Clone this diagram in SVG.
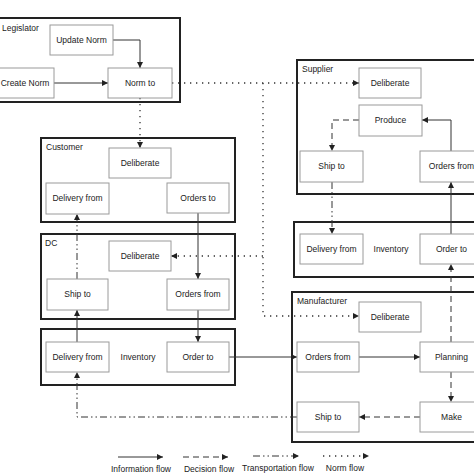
<svg xmlns="http://www.w3.org/2000/svg" width="474" height="474" viewBox="0 0 474 474">
<defs>
<marker id="ah" viewBox="0 0 6 6" refX="6" refY="3" markerWidth="6" markerHeight="6" markerUnits="userSpaceOnUse" orient="auto">
<path d="M0,0 L6,3 L0,6 z" fill="#222"/>
</marker>
</defs>
<style>
.outer{fill:none;stroke:#222;stroke-width:2}
.node{fill:#fff;stroke:#9a9a9a;stroke-width:1}
text{font-family:"Liberation Sans",Arial,sans-serif;font-size:8.5px;fill:#222}
.c{text-anchor:middle}
.f{fill:none;stroke:#333;stroke-width:1;marker-end:url(#ah)}
.info{}
.dec{stroke-dasharray:6,4}
.tr{stroke-dasharray:7,3,1.5,3,1.5,3}
.norm{stroke-dasharray:1.3,4.7;stroke-width:1.3}
</style>
<rect width="474" height="474" fill="#fff"/>

<!-- outer containers -->
<g id="legislator">
<rect class="outer" x="-10" y="18" width="190" height="84"/>
<text x="2" y="31">Legislator</text>
</g>
<g id="customer">
<rect class="outer" x="41" y="138" width="194" height="84"/>
<text x="46" y="150">Customer</text>
</g>
<g id="dc">
<rect class="outer" x="41" y="234" width="194" height="85"/>
<text x="45" y="246">DC</text>
</g>
<g id="dc-inventory">
<rect class="outer" x="41" y="329" width="194" height="56"/>
<text class="c" x="138" y="360">Inventory</text>
</g>
<g id="supplier">
<rect class="outer" x="297" y="60" width="190" height="134"/>
<text x="302" y="72">Supplier</text>
</g>
<g id="supplier-inventory">
<rect class="outer" x="294" y="222" width="193" height="55"/>
<text class="c" x="391" y="252">Inventory</text>
</g>
<g id="manufacturer">
<rect class="outer" x="292" y="292" width="195" height="150"/>
<text x="297" y="304">Manufacturer</text>
</g>

<!-- connectors -->
<g id="connectors">
<path class="f info" d="M113,40 H140 V68"/>
<path class="f info" d="M54,83 H108"/>
<path class="f norm" d="M172,83 H359"/>
<path class="f norm" d="M140,98 V148"/>
<path class="f norm" d="M263,83 V316 H359"/>
<path class="f norm" d="M263,256 H171"/>
<path class="f info" d="M198,213 V279"/>
<path class="f info" d="M198,310 V342"/>
<path class="f info" d="M77,342 V310"/>
<path class="f tr" d="M77,279 V214"/>
<path class="f info" d="M229,357 H297"/>
<path class="f tr" d="M297,417 H77 V372"/>
<path class="f dec" d="M359,120 H332 V151"/>
<path class="f info" d="M451,151 V120 H422"/>
<path class="f tr" d="M332,182 V234"/>
<path class="f info" d="M451,234 V182"/>
<path class="f dec" d="M451,342 V264"/>
<path class="f info" d="M359,357 H420"/>
<path class="f dec" d="M451,372 V402"/>
<path class="f dec" d="M420,417 H359"/>
</g>

<!-- nodes -->
<g id="update-norm"><rect class="node" x="50" y="25" width="63" height="30"/><text class="c" x="81.5" y="43">Update Norm</text></g>
<g id="create-norm"><rect class="node" x="-10" y="68" width="64" height="30"/><text class="c" x="25" y="86">Create Norm</text></g>
<g id="norm-to"><rect class="node" x="108" y="68" width="64" height="30"/><text class="c" x="140" y="86">Norm to</text></g>

<g id="cust-deliberate"><rect class="node" x="109" y="148" width="62" height="30"/><text class="c" x="140" y="166">Deliberate</text></g>
<g id="cust-delivery-from"><rect class="node" x="46" y="183" width="63" height="31"/><text class="c" x="77.5" y="201">Delivery from</text></g>
<g id="cust-orders-to"><rect class="node" x="167" y="183" width="62" height="30"/><text class="c" x="198" y="201">Orders to</text></g>

<g id="dc-deliberate"><rect class="node" x="109" y="241" width="62" height="30"/><text class="c" x="140" y="259">Deliberate</text></g>
<g id="dc-ship-to"><rect class="node" x="47" y="279" width="61" height="31"/><text class="c" x="77.5" y="297">Ship to</text></g>
<g id="dc-orders-from"><rect class="node" x="167" y="279" width="62" height="31"/><text class="c" x="198" y="297">Orders from</text></g>

<g id="dc-delivery-from"><rect class="node" x="46" y="342" width="63" height="30"/><text class="c" x="77.5" y="360">Delivery from</text></g>
<g id="dc-order-to"><rect class="node" x="167" y="342" width="62" height="30"/><text class="c" x="198" y="360">Order to</text></g>

<g id="sup-deliberate"><rect class="node" x="359" y="68" width="62" height="30"/><text class="c" x="390" y="86">Deliberate</text></g>
<g id="sup-produce"><rect class="node" x="359" y="105" width="63" height="31"/><text class="c" x="390.5" y="123">Produce</text></g>
<g id="sup-ship-to"><rect class="node" x="300" y="151" width="63" height="31"/><text class="c" x="331.5" y="169">Ship to</text></g>
<g id="sup-orders-from"><rect class="node" x="420" y="151" width="63" height="31"/><text class="c" x="451.5" y="169">Orders from</text></g>

<g id="sup-delivery-from"><rect class="node" x="300" y="234" width="63" height="30"/><text class="c" x="331.5" y="252">Delivery from</text></g>
<g id="sup-order-to"><rect class="node" x="420" y="234" width="63" height="30"/><text class="c" x="451.5" y="252">Order to</text></g>

<g id="man-deliberate"><rect class="node" x="359" y="302" width="62" height="30"/><text class="c" x="390" y="320">Deliberate</text></g>
<g id="man-orders-from"><rect class="node" x="297" y="342" width="62" height="30"/><text class="c" x="328" y="360">Orders from</text></g>
<g id="man-planning"><rect class="node" x="420" y="342" width="63" height="30"/><text class="c" x="451.5" y="360">Planning</text></g>
<g id="man-ship-to"><rect class="node" x="297" y="402" width="62" height="30"/><text class="c" x="328" y="420">Ship to</text></g>
<g id="man-make"><rect class="node" x="420" y="402" width="63" height="30"/><text class="c" x="451.5" y="420">Make</text></g>

<!-- legend -->
<g id="legend">
<path class="f info" d="M118,457 H163"/>
<path class="f dec" d="M183,457 H228"/>
<path class="f tr" d="M253,456 H299"/>
<path class="f norm" d="M323,456 H369"/>
<text class="c" x="141" y="472">Information flow</text>
<text class="c" x="209" y="472">Decision flow</text>
<text class="c" x="278" y="471">Transportation flow</text>
<text class="c" x="345" y="471">Norm flow</text>
</g>
</svg>
